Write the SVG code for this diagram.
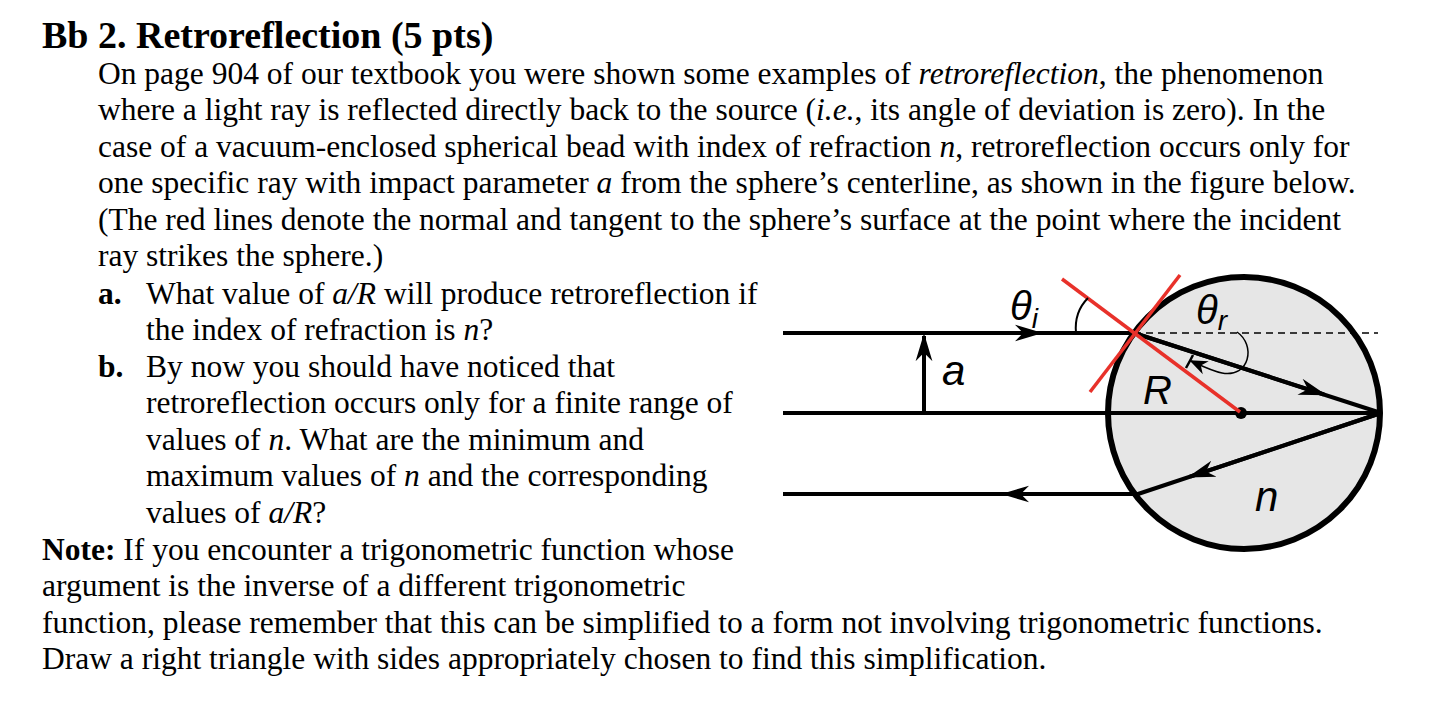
<svg xmlns="http://www.w3.org/2000/svg" width="1444" height="704" viewBox="0 0 1444 704">
<style>
.t{font-family:"Liberation Serif",serif;font-size:31.5px;fill:#000}
.b{font-weight:bold}
.i{font-style:italic}
.s{font-family:"Liberation Sans",Arial,sans-serif;font-style:italic;fill:#000}
.k{stroke:#000;stroke-width:4;fill:none}
.r{stroke:#e8312a;stroke-width:3.5;fill:none}
</style>
<defs>
<marker id="ah2" viewBox="0 0 10 10" refX="9" refY="5" markerWidth="28" markerHeight="28" markerUnits="userSpaceOnUse" orient="auto"><path d="M0,2 L10,5 L0,8 L3,5 z" fill="#000"/></marker>
<marker id="ah3" viewBox="0 0 10 10" refX="9" refY="5" markerWidth="18" markerHeight="18" markerUnits="userSpaceOnUse" orient="auto"><path d="M0,1 L10,5 L0,9 L3,5 z" fill="#000"/></marker>
</defs>
<g id="text">
<text class="t b" x="42" y="48" style="font-size:38px">Bb 2.  Retroreflection (5 pts)</text>
<text class="t" x="98" y="84">On page 904 of our textbook you were shown some examples of <tspan class="i">retroreflection</tspan>, the phenomenon</text>
<text class="t" x="98" y="120">where a light ray is reflected directly back to the source (<tspan class="i">i.e.</tspan>, its angle of deviation is zero).  In the</text>
<text class="t" x="98" y="157">case of a vacuum-enclosed spherical bead with index of refraction <tspan class="i">n</tspan>, retroreflection occurs only for</text>
<text class="t" x="98" y="193">one specific ray with impact parameter <tspan class="i">a</tspan> from the sphere’s centerline, as shown in the figure below.</text>
<text class="t" x="98" y="230">(The red lines denote the normal and tangent to the sphere’s surface at the point where the incident</text>
<text class="t" x="98" y="266">ray strikes the sphere.)</text>
<text class="t b" x="98" y="304">a.</text>
<text class="t" x="146" y="304">What value of <tspan class="i">a/R</tspan> will produce retroreflection if</text>
<text class="t" x="146" y="340">the index of refraction is <tspan class="i">n</tspan>?</text>
<text class="t b" x="98" y="377">b.</text>
<text class="t" x="146" y="377">By now you should have noticed that</text>
<text class="t" x="146" y="413">retroreflection occurs only for a finite range of</text>
<text class="t" x="146" y="450">values of <tspan class="i">n</tspan>.  What are the minimum and</text>
<text class="t" x="146" y="486">maximum values of <tspan class="i">n</tspan> and the corresponding</text>
<text class="t" x="146" y="523">values of <tspan class="i">a/R</tspan>?</text>
<text class="t" x="42" y="560"><tspan class="b">Note:</tspan> If you encounter a trigonometric function whose</text>
<text class="t" x="42" y="596">argument is the inverse of a different trigonometric</text>
<text class="t" x="42" y="633">function, please remember that this can be simplified to a form not involving trigonometric functions.</text>
<text class="t" x="42" y="669">Draw a right triangle with sides appropriately chosen to find this simplification.</text>
</g>
<g id="sphere">
<circle cx="1244" cy="413" r="136" fill="#e6e6e6" stroke="#000" stroke-width="6"/>
<circle cx="1241" cy="413" r="6" fill="#000"/>
</g>
<g id="connectors">
<path class="k" d="M783,333 H1134" />
<path class="k" d="M783,333 H1040" marker-end="url(#ah2)"/>
<path d="M1134,333 H1378" stroke="#000" stroke-width="1.5" stroke-dasharray="7,5" fill="none"/>
<path class="k" d="M783,413 H1381"/>
<path class="k" d="M924,413 V336" marker-end="url(#ah2)"/>
<path class="k" d="M1138,494 H783"/>
<path class="k" d="M1138,494 H1004" marker-end="url(#ah2)"/>
<path class="k" d="M1134,333 L1381,413"/>
<path class="k" d="M1134,333 L1324,394.5" marker-end="url(#ah2)"/>
<path class="k" d="M1381,413 L1138,494"/>
<path class="k" d="M1381,413 L1190,476.7" marker-end="url(#ah2)"/>
<path class="r" d="M1062,279 L1240,412"/>
<path class="r" d="M1180,275 L1090,392"/>
<path d="M1088,298 Q1074,312 1076,333" stroke="#000" stroke-width="2" fill="none"/>
<path d="M1186,368 Q1190,361 1193,355" stroke="#000" stroke-width="2.5" fill="none"/>
<path d="M1237,332 C1256,345 1250,378 1222,373 C1212,371 1202,366 1191,361" stroke="#000" stroke-width="1.5" fill="none" marker-end="url(#ah3)"/>
</g>
<g id="labels">
<text class="s" x="942" y="385" style="font-size:42px">a</text>
<text class="s" x="1143" y="404" style="font-size:40px">R</text>
<text class="s" x="1255" y="511" style="font-size:42px">n</text>
<text class="s" x="1010" y="320" style="font-size:40px">θ<tspan style="font-size:28px" dy="8">i</tspan></text>
<text class="s" x="1196" y="324" style="font-size:40px">θ<tspan style="font-size:28px" dy="6">r</tspan></text>
</g>
</svg>
